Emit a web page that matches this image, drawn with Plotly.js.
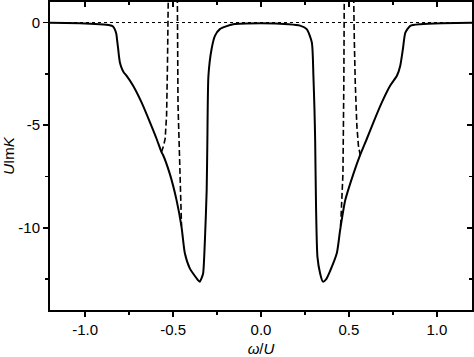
<!DOCTYPE html>
<html>
<head>
<meta charset="utf-8">
<script src="https://cdn.plot.ly/plotly-3.0.1.min.js"></script>
<style>html,body{margin:0;padding:0;background:#fff;}#plot{width:474px;height:357px;}</style>
</head>
<body>
<div id="plot"></div>
<script>
// Solid curve: U Im K vs omega/U
const solidX = [-1.2, -1.03, -0.917, -0.86, -0.843, -0.832, -0.823, -0.819, -0.813, -0.808, -0.802, -0.794, -0.781, -0.765, -0.728, -0.68, -0.632, -0.594, -0.566, -0.557, -0.519, -0.48, -0.452, -0.433, -0.405, -0.366, -0.356, -0.348, -0.338, -0.329, -0.319, -0.309, -0.305, -0.299, -0.281, -0.262, -0.234, -0.158, 0.0, 0.158, 0.222, 0.26, 0.289, 0.298, 0.304, 0.308, 0.313, 0.321, 0.336, 0.352, 0.372, 0.393, 0.431, 0.45, 0.479, 0.526, 0.564, 0.602, 0.64, 0.688, 0.735, 0.773, 0.792, 0.807, 0.821, 0.849, 0.906, 1.03, 1.2];
const solidY = [-0.01, -0.03, -0.08, -0.13, -0.18, -0.32, -0.55, -0.81, -1.23, -1.62, -1.96, -2.18, -2.42, -2.59, -3.07, -3.88, -4.85, -5.66, -6.31, -6.45, -7.36, -8.66, -9.95, -11.24, -11.97, -12.46, -12.57, -12.62, -12.45, -12.21, -10.6, -8.17, -5.74, -2.59, -1.29, -0.65, -0.32, -0.08, -0.03, -0.08, -0.15, -0.32, -0.97, -2.59, -4.2, -5.74, -8.98, -11.41, -12.21, -12.62, -12.48, -12.1, -11.24, -10.11, -8.66, -7.36, -6.45, -5.66, -4.85, -3.88, -3.07, -2.59, -2.1, -1.29, -0.49, -0.16, -0.08, -0.03, -0.01];

// Dashed curves (diverging near omega/U = ±0.5)
const dashLeftX = [-0.566, -0.554, -0.545, -0.537, -0.532, -0.528, -0.525, null, -0.477, -0.475, -0.472, -0.466, -0.462, -0.456, -0.452];
const dashLeftY = [-6.31, -6.0, -5.65, -4.53, -2.1, 0.33, 3.0, null, 3.0, 0.33, -4.0, -5.74, -7.36, -8.98, -9.9];
const dashRightX = [0.452, 0.454, 0.466, 0.469, 0.471, 0.473, 0.475, null, 0.524, 0.526, 0.531, 0.536, 0.545, 0.554, 0.564];
const dashRightY = [-9.9, -9.71, -7.36, -5.74, -3.0, 0.33, 3.0, null, 3.0, 0.33, -1.0, -2.91, -5.01, -5.99, -6.45];

// Zero reference line
const zeroX = [-1.2, 1.2];
const zeroY = [0, 0];

const xTickVals = [-1.0, -0.5, 0.0, 0.5, 1.0];
const xTickText = ['-1.0', '-0.5', '0.0', '0.5', '1.0'];
const yTickVals = [0, -5, -10];
const yTickText = ['0', '-5', '-10'];

const xRange = [-1.2, 1.2];
const yRange = [-14, 1];

const font = {family: 'Liberation Sans, Arial, sans-serif', size: 15, color: '#000'};

const traces = [
  {x: zeroX, y: zeroY, mode: 'lines', line: {color: '#000', width: 1, dash: 'dot'}, hoverinfo: 'skip'},
  {x: dashLeftX, y: dashLeftY, mode: 'lines', line: {color: '#000', width: 1.6, dash: '6px,3px'}, connectgaps: false},
  {x: dashRightX, y: dashRightY, mode: 'lines', line: {color: '#000', width: 1.6, dash: '6px,3px'}, connectgaps: false},
  {x: solidX, y: solidY, mode: 'lines', line: {color: '#000', width: 2, shape: 'spline', smoothing: 0.6}},
  {x: xRange, y: yRange, xaxis: 'x2', yaxis: 'y2', mode: 'markers', marker: {opacity: 0}, hoverinfo: 'skip'}
];

const layout = {
  width: 474, height: 357,
  margin: {l: 50, r: 2, t: 2, b: 47},
  paper_bgcolor: '#fff', plot_bgcolor: '#fff',
  showlegend: false,
  font: font,
  xaxis: {
    range: xRange, tickvals: xTickVals, ticktext: xTickText,
    ticks: 'outside', ticklen: 5, tickwidth: 1.5, tickcolor: '#000',
    minor: {dtick: 0.25, tick0: 0, ticks: 'outside', ticklen: 3, tickwidth: 1.5, tickcolor: '#000', showgrid: false},
    showline: true, linecolor: '#000', linewidth: 2,
    showgrid: false, zeroline: false,
    tickfont: font,
    title: {text: '<i>ω</i>/<i>U</i>', font: font, standoff: 6}
  },
  yaxis: {
    range: yRange, tickvals: yTickVals, ticktext: yTickText,
    ticks: 'outside', ticklen: 5, tickwidth: 1.5, tickcolor: '#000',
    minor: {dtick: 2.5, tick0: 0, ticks: 'outside', ticklen: 3, tickwidth: 1.5, tickcolor: '#000', showgrid: false},
    showline: true, linecolor: '#000', linewidth: 2,
    showgrid: false, zeroline: false,
    tickfont: font,
    title: {text: '<i>U</i>Im<i>K</i>', font: font, standoff: 2}
  },
  xaxis2: {
    overlaying: 'x', side: 'top', anchor: 'y2', range: xRange,
    tickvals: xTickVals, showticklabels: false,
    ticks: 'inside', ticklen: 5, tickwidth: 1.5, tickcolor: '#000',
    minor: {dtick: 0.25, tick0: 0, ticks: 'inside', ticklen: 3, tickwidth: 1.5, tickcolor: '#000', showgrid: false},
    showline: true, linecolor: '#000', linewidth: 2,
    showgrid: false, zeroline: false
  },
  yaxis2: {
    overlaying: 'y', side: 'right', anchor: 'x2', range: yRange,
    tickvals: yTickVals, showticklabels: false,
    ticks: 'inside', ticklen: 5, tickwidth: 1.5, tickcolor: '#000',
    minor: {dtick: 2.5, tick0: 0, ticks: 'inside', ticklen: 3, tickwidth: 1.5, tickcolor: '#000', showgrid: false},
    showline: true, linecolor: '#000', linewidth: 2,
    showgrid: false, zeroline: false
  }
};

Plotly.newPlot('plot', traces, layout, {staticPlot: true, displayModeBar: false});
</script>
</body>
</html>
